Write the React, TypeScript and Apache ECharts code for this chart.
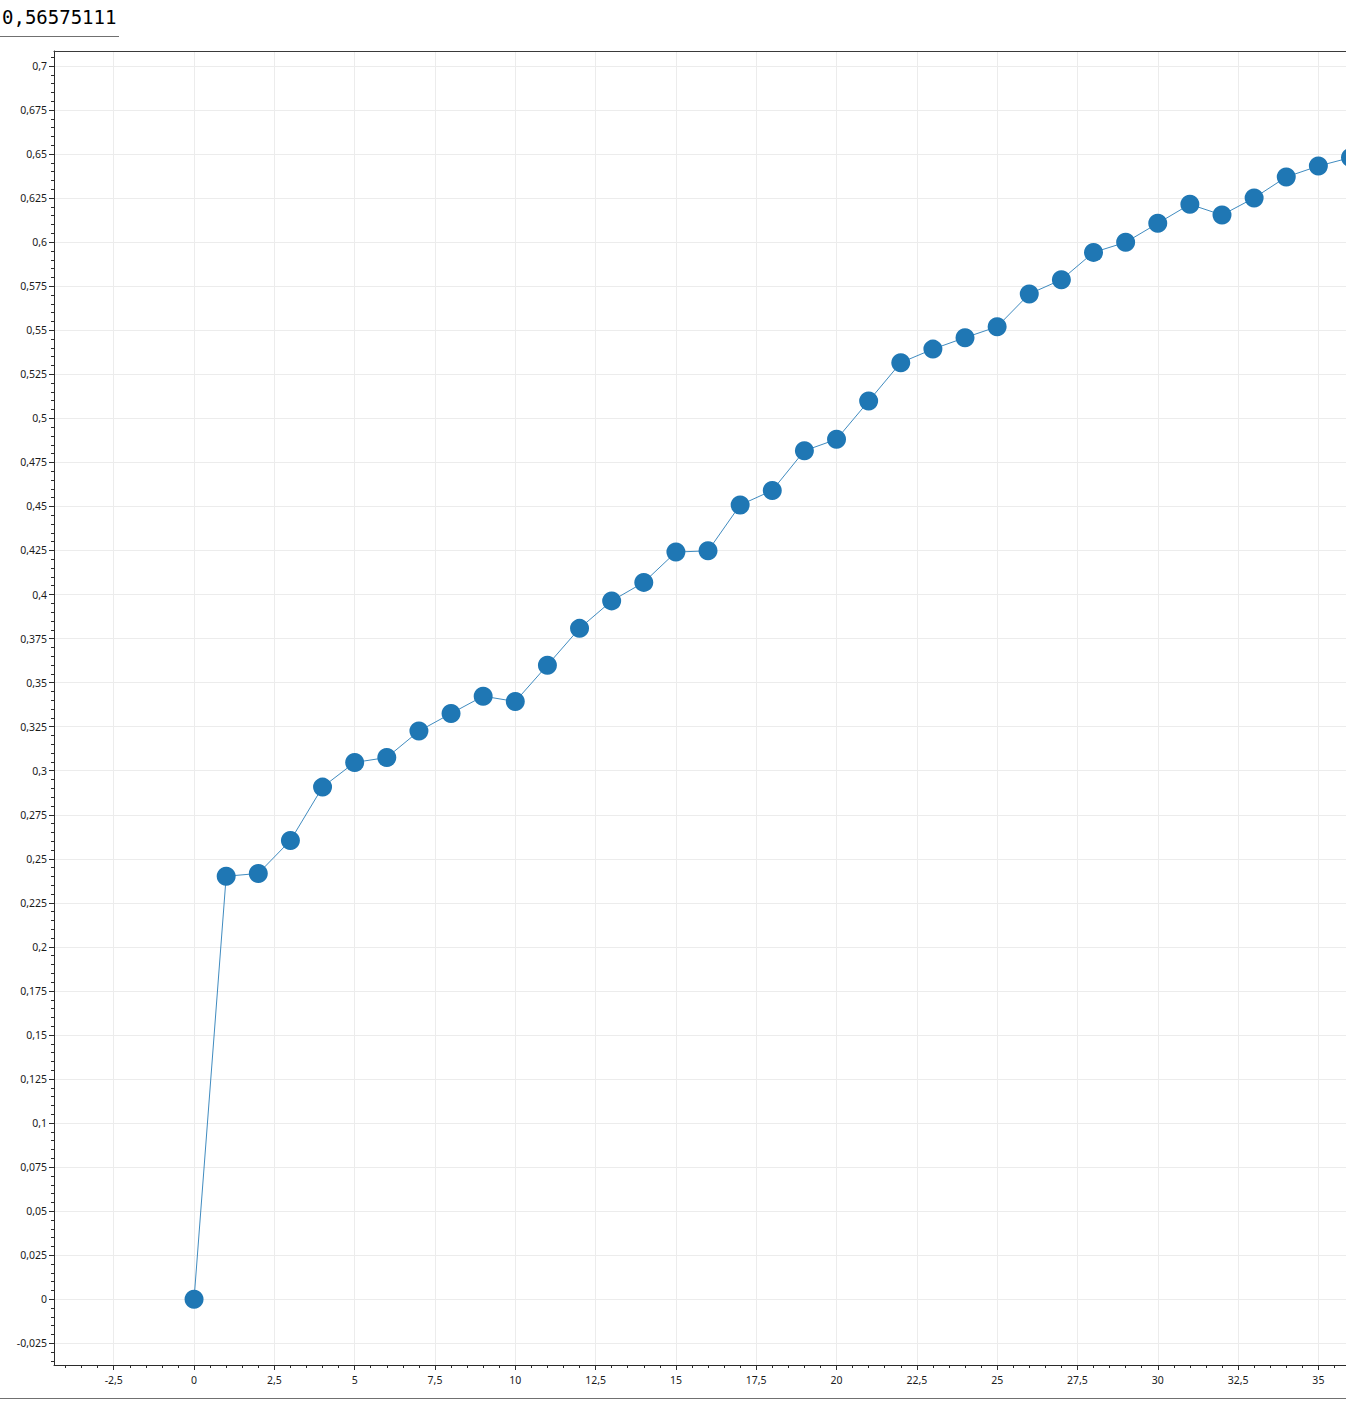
import { useEffect, useRef } from "react";
import * as echarts from "echarts";

// readout shown above the plot
const readout = "0,56575111";

// series: x index and measured value
const xValues = [
    0, 1, 2, 3, 4, 5, 6, 7, 8, 9, 10, 11, 12, 13, 14, 15, 16, 17, 18,
    19, 20, 21, 22, 23, 24, 25, 26, 27, 28, 29, 30, 31, 32, 33, 34, 35, 36,
];
const yValues = [
    0, 0.2401, 0.2417, 0.2604, 0.2907, 0.3047, 0.3075, 0.3225, 0.3325, 0.3423,
    0.3393, 0.3599, 0.3808, 0.3964, 0.4069, 0.4241, 0.4248, 0.4508, 0.4591, 0.4816,
    0.4881, 0.5098, 0.5316, 0.5393, 0.5458, 0.552, 0.5706, 0.5787, 0.5942, 0.5999,
    0.6107, 0.6215, 0.6154, 0.6251, 0.637, 0.6432, 0.648,
];

// tick labels
const xTicks = [-2.5, 0, 2.5, 5, 7.5, 10, 12.5, 15, 17.5, 20, 22.5, 25, 27.5, 30, 32.5, 35];
const yTicks = [
    -0.025, 0, 0.025, 0.05, 0.075, 0.1, 0.125, 0.15, 0.175, 0.2, 0.225, 0.25, 0.275, 0.3, 0.325,
    0.35, 0.375, 0.4, 0.425, 0.45, 0.475, 0.5, 0.525, 0.55, 0.575, 0.6, 0.625, 0.65, 0.675, 0.7,
];

const X_MIN = -4.36;
const X_MAX = 35.86;
const Y_MIN = -0.0373;
const Y_MAX = 0.7085;

// minor ticks, 5 per major step
const minorSteps = (lo: number, hi: number, step: number) => {
    const out: number[] = [];
    const start = Math.ceil(lo / step);
    const end = Math.floor(hi / step);
    for (let i = start; i <= end; i++) out.push(Math.round(i * step * 10000) / 10000);
    return out;
};
const xMinor = minorSteps(X_MIN, X_MAX, 0.5);
const yMinor = minorSteps(Y_MIN, Y_MAX, 0.005);

const AXIS_COLOR = "#2b2b2b";
const GRID_COLOR = "#ececec";
const DOT_COLOR = "#1f77b4";

const fmt = (v: number) => String(v).replace(".", ",");

export default function App() {
    const chartRef = useRef<HTMLDivElement | null>(null);

    useEffect(() => {
        if (!chartRef.current) return;
        const chart = echarts.init(chartRef.current, undefined, { renderer: "svg" });

        const labelStyle = {
            fontFamily: "'Noto Sans', sans-serif",
            fontSize: 10.5,
            color: "#1a1a1a",
        };

        const option: any = {
            animation: false,
            backgroundColor: "#ffffff",
            grid: { left: 54, top: 51, right: 0, bottom: 40, containLabel: false },
            xAxis: [
                {
                    type: "value",
                    position: "bottom",
                    min: X_MIN,
                    max: X_MAX,
                    axisLine: { show: true, onZero: false, lineStyle: { color: AXIS_COLOR, width: 1 } },
                    axisTick: { show: true, length: 5, customValues: xTicks, lineStyle: { color: AXIS_COLOR } },
                    axisLabel: { ...labelStyle, margin: 9, customValues: xTicks, formatter: fmt },
                    splitLine: { show: true, lineStyle: { color: GRID_COLOR, width: 1 } },
                },
                {
                    type: "value",
                    position: "bottom",
                    min: X_MIN,
                    max: X_MAX,
                    axisLine: { show: false, onZero: false },
                    axisTick: { show: true, length: 3, customValues: xMinor, lineStyle: { color: AXIS_COLOR } },
                    axisLabel: { show: false },
                    splitLine: { show: false },
                },
                {
                    type: "value",
                    position: "top",
                    min: X_MIN,
                    max: X_MAX,
                    axisLine: { show: true, onZero: false, lineStyle: { color: "#3a3a3a", width: 1 } },
                    axisTick: { show: false },
                    axisLabel: { show: false },
                    splitLine: { show: false },
                },
            ],
            yAxis: [
                {
                    type: "value",
                    position: "left",
                    min: Y_MIN,
                    max: Y_MAX,
                    axisLine: { show: true, onZero: false, lineStyle: { color: AXIS_COLOR, width: 1 } },
                    axisTick: { show: true, length: 5, customValues: yTicks, lineStyle: { color: AXIS_COLOR } },
                    axisLabel: { ...labelStyle, margin: 7, customValues: yTicks, formatter: fmt },
                    splitLine: { show: true, lineStyle: { color: GRID_COLOR, width: 1 } },
                },
                {
                    type: "value",
                    position: "left",
                    min: Y_MIN,
                    max: Y_MAX,
                    axisLine: { show: false, onZero: false },
                    axisTick: { show: true, length: 3, customValues: yMinor, lineStyle: { color: AXIS_COLOR } },
                    axisLabel: { show: false },
                    splitLine: { show: false },
                },
            ],
            graphic: {
                elements: [
                    {
                        type: "text",
                        x: 2,
                        y: 17,
                        style: {
                            text: readout,
                            fill: "#000000",
                            fontFamily: "'DejaVu Sans Mono', monospace",
                            fontSize: 19,
                            verticalAlign: "middle",
                        },
                    },
                    {
                        type: "line",
                        shape: { x1: 0, y1: 36.5, x2: 119, y2: 36.5 },
                        style: { stroke: "#707070", lineWidth: 1 },
                    },
                    {
                        type: "line",
                        shape: { x1: 0, y1: 1398.5, x2: 1346, y2: 1398.5 },
                        style: { stroke: "#707070", lineWidth: 1 },
                    },
                ],
            },
            series: [
                {
                    type: "line",
                    xAxisIndex: 0,
                    yAxisIndex: 0,
                    data: xValues.map((x, i) => [x, yValues[i]]),
                    symbol: "circle",
                    symbolSize: 19,
                    clip: false,
                    itemStyle: { color: DOT_COLOR },
                    lineStyle: { color: DOT_COLOR, width: 1, opacity: 0.85 },
                    emphasis: { disabled: true },
                },
            ],
        };

        chart.setOption(option);

        return () => {
            chart.dispose();
        };
    }, []);

    return (
        <div
            ref={chartRef}
            style={{ position: "absolute", left: 0, top: 0, width: "1346px", height: "1405px" }}
        />
    );
}
